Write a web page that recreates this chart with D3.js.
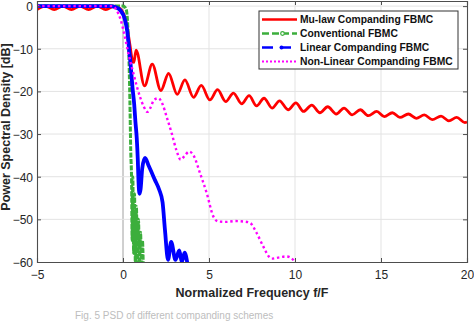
<!DOCTYPE html>
<html>
<head>
<meta charset="utf-8">
<script src="https://cdn.jsdelivr.net/npm/d3@7"></script>
<style>
  html, body { margin: 0; padding: 0; background: #fff; }
  svg { display: block; font-family: "Liberation Sans", Arial, Helvetica, sans-serif; }
</style>
</head>
<body>
<svg id="chart" width="474" height="322"></svg>
<script>
// ---------- data ----------
const xTicks = [-5, 0, 5, 10, 15, 20];
const yTicks = [0, -10, -20, -30, -40, -50, -60];
const seriesNames = ["Mu-law Companding FBMC", "Conventional FBMC", "Linear Companding FBMC", "Non-Linear Companding FBMC"];
const xLabel = "Normalized Frequency f/F";
const yLabel = "Power Spectral Density [dB]";
const caption = "Fig. 5 PSD of different companding schemes";

// [f/F, dB]
const muLaw = [
  [-5, -0.8], [-4.5, 0], [-4, -0.8], [-3.5, 0], [-3, -0.8], [-2.5, 0], [-2, -0.8], [-1.5, 0], [-1, -0.8],
  [-0.5, 0], [-0.2, -0.5], [0, -1.5], [0.2, -4], [0.4, -9], [0.55, -12.8], [0.63, -13.2],
  [0.76, -10.3], [1.25, -18.7], [1.7, -13.6], [2.2, -19.8], [2.65, -15.8], [3.15, -20.7],
  [3.6, -17.3], [4.1, -21.4], [4.55, -18.6], [5.05, -22.0], [5.5, -19.6], [5.97, -22.4],
  [6.42, -20.4], [6.9, -22.9], [7.33, -21.0], [7.77, -23.4], [8.2, -21.6], [8.67, -23.9],
  [9.1, -22.2], [9.6, -24.3], [10.05, -22.7], [10.5, -24.7], [10.97, -23.2], [11.45, -25.0],
  [11.9, -23.6], [12.4, -25.3], [12.85, -23.9], [13.32, -25.5], [13.8, -24.3], [14.26, -25.7],
  [14.75, -24.7], [15.19, -25.9], [15.66, -25.0], [16.1, -26.1], [16.59, -25.3], [17.05, -26.3],
  [17.52, -25.5], [17.98, -26.6], [18.49, -25.8], [18.95, -26.9], [19.4, -26.1], [19.88, -27.3],
  [20, -27.2]
];
const conventional = [
  [-5, 0], [-2, 0], [0, 0], [0.1, -0.2], [0.2, -1], [0.27, -4], [0.33, -10], [0.4, -22],
  [0.45, -34], [0.5, -41], [0.53, -55], [0.57, -40], [0.62, -58], [0.67, -44], [0.72, -61],
  [0.78, -47], [0.84, -61], [0.9, -50], [0.96, -61], [1.02, -53], [1.08, -61], [1.13, -55], [1.18, -61]
];
const linear = [
  [-5, 0], [-2, 0], [-0.8, 0], [-0.4, -0.3], [-0.15, -1], [0.1, -3], [0.25, -6], [0.35, -10],
  [0.45, -14], [0.55, -19], [0.65, -23], [0.72, -27], [0.8, -31], [0.86, -36], [0.9, -41],
  [0.96, -44], [1.02, -43], [1.12, -38], [1.28, -35.6], [1.5, -37.5], [1.86, -40.8], [2.1, -43],
  [2.3, -46], [2.44, -52.5], [2.62, -59.5], [2.8, -55.3], [3.05, -59.5], [3.27, -57.3],
  [3.42, -60], [3.58, -57.8], [3.75, -60.5]
];
const nonLinear = [
  [-5, 0], [-2, 0], [-0.6, 0], [-0.37, -1], [-0.15, -3], [0.06, -6.3], [0.31, -11], [0.6, -15.7],
  [0.99, -21.3], [1.2, -23.5], [1.42, -24.8], [1.6, -23.8], [1.8, -22], [2.05, -21.6], [2.3, -23],
  [2.54, -26], [2.83, -29.8], [3.1, -33.7], [3.35, -36], [3.6, -35], [3.85, -34.1], [4.1, -35],
  [4.48, -39.2], [4.87, -43.9], [5.25, -49.3], [5.54, -50.5], [6, -50.6], [6.5, -50.4], [7, -50.5],
  [7.38, -50.8], [7.77, -53.2], [8.16, -56.4], [8.5, -58.8], [8.65, -59.2], [9.1, -58.9],
  [9.5, -58.7], [9.9, -59.5], [10, -60]
];

// ---------- layout ----------
const svg = d3.select("#chart");
const L = 37, R = 467, T = 1, B = 262;
const x = d3.scaleLinear().domain([-5, 20]).range([L, R]);
const y = d3.scaleLinear().domain([-60, 1.2]).range([B, T]);

svg.append("defs").append("clipPath").attr("id", "clip")
  .append("rect").attr("x", L).attr("y", T).attr("width", R - L).attr("height", B - T);

// grid
const grid = svg.append("g");
grid.selectAll("line.gx").data(xTicks.filter(d => d !== -5 && d !== 20)).enter().append("line")
  .attr("x1", d => x(d)).attr("x2", d => x(d)).attr("y1", T).attr("y2", B)
  .attr("stroke", d => d === 0 ? "#a0a0a0" : "#e3e3e3").attr("stroke-width", 1);
grid.selectAll("line.gy").data(yTicks.filter(d => d !== -60)).enter().append("line")
  .attr("x1", L).attr("x2", R).attr("y1", d => y(d)).attr("y2", d => y(d))
  .attr("stroke", "#e3e3e3").attr("stroke-width", 1);

// curves
const line = d3.line().x(d => x(d[0])).y(d => y(d[1])).curve(d3.curveMonotoneX);
const plot = svg.append("g").attr("clip-path", "url(#clip)");
plot.append("path").datum(muLaw).attr("d", line).attr("fill", "none")
  .attr("stroke", "#ff0000").attr("stroke-width", 2.8);
plot.append("path").datum(conventional).attr("d", line).attr("fill", "none")
  .attr("stroke", "#3cae3c").attr("stroke-width", 3).attr("stroke-dasharray", "5,1.5");
plot.append("path").datum(linear).attr("d", line).attr("fill", "none")
  .attr("stroke", "#0000ff").attr("stroke-width", 3.8);
plot.append("path").datum(nonLinear).attr("d", line).attr("fill", "none")
  .attr("stroke", "#ff00ff").attr("stroke-width", 2.4).attr("stroke-dasharray", "2.4,2.8");

// axes (box with inward ticks)
const axisColor = "#4d4d4d";
const axB = svg.append("g").attr("transform", `translate(0,${B})`)
  .call(d3.axisBottom(x).tickValues(xTicks).tickSize(-4).tickPadding(8).tickFormat(d3.format("d")));
const axT = svg.append("g").attr("transform", `translate(0,${T})`)
  .call(d3.axisTop(x).tickValues(xTicks).tickSize(-4).tickFormat(""));
const axL = svg.append("g").attr("transform", `translate(${L},0)`)
  .call(d3.axisLeft(y).tickValues(yTicks).tickSize(-4).tickPadding(4).tickFormat(d3.format("d")));
const axR = svg.append("g").attr("transform", `translate(${R},0)`)
  .call(d3.axisRight(y).tickValues(yTicks).tickSize(-4).tickFormat(""));
[axB, axT, axL, axR].forEach(a => {
  a.select(".domain").attr("stroke", axisColor).attr("stroke-width", 1.1);
  a.selectAll(".tick line").attr("stroke", axisColor);
  a.selectAll(".tick text").attr("fill", "#262626").style("font-size", "12px")
    .style("font-family", "'Liberation Sans', Arial, sans-serif");
});
axL.selectAll(".tick text").attr("dy", "0.36em");

// axis labels
svg.append("text").attr("x", (L + R) / 2).attr("y", 297).attr("text-anchor", "middle")
  .style("font-size", "12.5px").style("font-weight", "bold").attr("fill", "#262626").text(xLabel);
svg.append("text").attr("transform", `translate(10,127) rotate(-90)`).attr("text-anchor", "middle")
  .style("font-size", "12.5px").style("font-weight", "bold").attr("fill", "#262626").text(yLabel);

// legend
const lg = svg.append("g");
const lx = 259, ly = 11, lw = 199, lh = 58;
lg.append("rect").attr("x", lx).attr("y", ly).attr("width", lw).attr("height", lh)
  .attr("fill", "#fff").attr("stroke", "#333").attr("stroke-width", 1);
const rowY = [19.5, 33.5, 47.5, 61.5];
const sx1 = 262, sx2 = 297;
lg.append("line").attr("x1", sx1).attr("x2", sx2).attr("y1", rowY[0]).attr("y2", rowY[0])
  .attr("stroke", "#ff0000").attr("stroke-width", 2.6);
lg.append("line").attr("x1", sx1).attr("x2", sx2).attr("y1", rowY[1]).attr("y2", rowY[1])
  .attr("stroke", "#3cae3c").attr("stroke-width", 2.6).attr("stroke-dasharray", "7,3");
lg.append("circle").attr("cx", (sx1 + sx2) / 2 + 3).attr("cy", rowY[1]).attr("r", 1.8)
  .attr("fill", "#fff").attr("stroke", "#3cae3c").attr("stroke-width", 1.2);
lg.append("line").attr("x1", sx1).attr("x2", sx2 - 6).attr("y1", rowY[2]).attr("y2", rowY[2])
  .attr("stroke", "#0000ff").attr("stroke-width", 2.6).attr("stroke-dasharray", "11,7");
lg.append("circle").attr("cx", (sx1 + sx2) / 2 + 2).attr("cy", rowY[2]).attr("r", 2)
  .attr("fill", "#0000ff");
lg.append("line").attr("x1", sx1).attr("x2", sx2).attr("y1", rowY[3]).attr("y2", rowY[3])
  .attr("stroke", "#ff00ff").attr("stroke-width", 2).attr("stroke-dasharray", "2,2");
lg.selectAll("text.lt").data(seriesNames).enter().append("text")
  .attr("x", 300).attr("y", (d, i) => rowY[i]).attr("dy", "0.35em")
  .style("font-size", "10.3px").style("font-weight", "bold").attr("fill", "#111").text(d => d);

// faint caption at the bottom edge (kept fully inside the picture)
svg.append("text").attr("x", 75).attr("y", 318.5).style("font-size", "10px")
  .attr("fill", "#bdbdbd").text(caption);
</script>
</body>
</html>
